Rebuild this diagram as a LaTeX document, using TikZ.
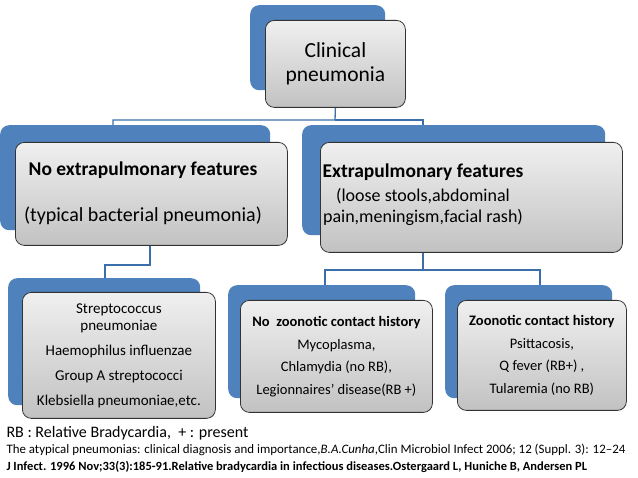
\documentclass[tikz,border=0pt]{standalone}
\usepackage{fontspec}
\setmainfont{Carlito}
\usetikzlibrary{positioning}
\definecolor{backBlue}{RGB}{79,129,189}
\definecolor{lineBlue}{RGB}{60,110,170}
\tikzset{
  back/.style={fill=backBlue,rounded corners=9pt,draw=none,anchor=north west},
  card/.style={rounded corners=9pt,draw=black!80,thick,top color=gray!12,bottom color=gray!48,anchor=north west,align=center},
  link/.style={lineBlue,line width=1.3pt},
}
\begin{document}
\begin{tikzpicture}[x=1pt,y=-1pt,font=\fontsize{14}{17}\selectfont]
  \useasboundingbox (0,0) rectangle (638,478);

  % blue backs
  \node[back,minimum width=135,minimum height=85] (clinB) at (250,5) {};
  \node[back,minimum width=270,minimum height=105] (noB) at (0,125) {};
  \node[back,minimum width=303,minimum height=110] (extB) at (302,125) {};
  \node[back,minimum width=192,minimum height=127] (strepB) at (8,278) {};
  \node[back,minimum width=187,minimum height=113] (nozB) at (228,285) {};
  \node[back,minimum width=167,minimum height=113] (zooB) at (445,285) {};

  % grey cards
  \node[card,minimum width=140,minimum height=87,font=\fontsize{21.5}{24}\selectfont] (clin) at (265,20) {Clinical\\pneumonia};
  \node[card,minimum width=272,minimum height=103] (no) at (15,142) {};
  \node[font=\bfseries\fontsize{19.5}{22}\selectfont] at (143,170) {No extrapulmonary features};
  \node[font=\fontsize{20}{22}\selectfont] at (143,216) {(typical bacterial pneumonia)};
  \node[card,minimum width=302,minimum height=110] (ext) at (320,142) {};
  \node[font=\bfseries\fontsize{19.5}{22}\selectfont] at (423,172) {Extrapulmonary features};
  \node[align=center,font=\fontsize{18}{21}\selectfont] at (423,207) {(loose stools,abdominal\\pain,meningism,facial rash)};
  \node[card,minimum width=193,minimum height=126,font=\fontsize{15}{25}\selectfont] (strep) at (22,292)
    {Streptococcus\\[-8pt]pneumoniae\\Haemophilus influenzae\\Group A streptococci\\Klebsiella pneumoniae,etc.};
  \node[card,minimum width=192,minimum height=112,font=\fontsize{14.5}{22.5}\selectfont] (noz) at (240,300)
    {\textbf{No\ \ zoonotic contact history}\\Mycoplasma,\\Chlamydia (no RB),\\Legionnaires’ disease(RB +)};
  \node[card,minimum width=169,minimum height=110,font=\fontsize{14.5}{22.5}\selectfont] (zoo) at (457,300)
    {\textbf{Zoonotic contact history}\\Psittacosis,\\Q fever (RB+) ,\\Tularemia (no RB)};

  % connectors
  \coordinate (clinJ) at (335,120);
  \draw[link] (clin.south) -- (clinJ) -| (noB.north -| 113,0);
  \draw[link] (clinJ) -| (extB.north -| 423,0);
  \coordinate (noJ) at (150,265);
  \draw[link] (no.south -| noJ) -- (noJ) -| (strepB.north -| 105,0);
  \coordinate (extJ) at (423,270);
  \draw[link] (ext.south -| extJ) -- (extJ) -| (nozB.north -| 325,0);
  \draw[link] (extJ) -| (zooB.north -| 540,0);

  % footer
  \node[anchor=west,font=\fontsize{16}{19}\selectfont] (rb) at (3,433) {RB : Relative Bradycardia,\ \ + : present};
  \node[anchor=west,font=\fontsize{12.9}{15}\selectfont] (ref1) at (3,450)
    {The atypical pneumonias: clinical diagnosis and importance,\textit{B.A.Cunha},Clin Microbiol Infect 2006; 12 (Suppl. 3): 12–24};
  \node[anchor=west,font=\bfseries\fontsize{12.5}{15}\selectfont] (ref2) at (3,467)
    {J Infect. 1996 Nov;33(3):185-91.Relative bradycardia in infectious diseases.Ostergaard L, Huniche B, Andersen PL};
\end{tikzpicture}
\end{document}
